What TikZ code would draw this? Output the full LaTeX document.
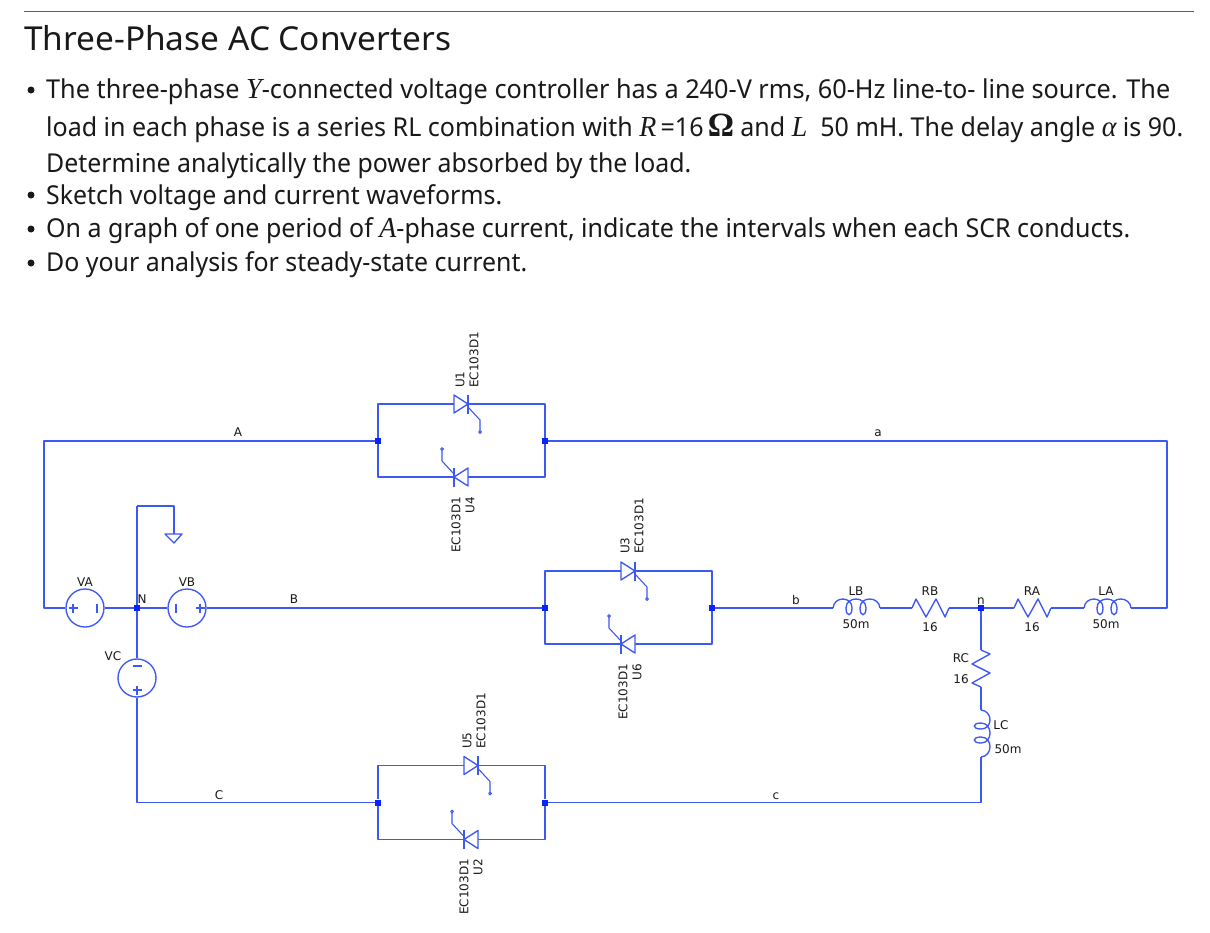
\documentclass[tikz,border=0pt]{standalone}
\usepackage{fontspec}
\usepackage{graphicx}
\setmainfont{Noto Sans}
\newfontfamily\ser{Liberation Serif}
\newfontfamily\lab{DejaVu Sans}
\definecolor{wirec}{RGB}{62,88,242}
\definecolor{dotc}{RGB}{8,36,250}
\definecolor{inkc}{RGB}{25,25,25}
\newcommand{\fitw}[2]{\resizebox{#1pt}{\height}{#2}}
\newcommand{\mi}[1]{{\ser\itshape\fontsize{29}{30}\selectfont #1}}
\tikzset{
  wire/.style={draw=wirec,line width=1.35pt,line join=round},
  junction/.style={rectangle,fill=dotc,inner sep=0pt,minimum size=6pt},
  srcsym/.style={circle,draw=wirec,line width=1.35pt,fill=white,inner sep=0pt,minimum size=38pt},
  txt/.style={anchor=base west,inner sep=0pt,text=inkc,font=\fontsize{26}{30}\selectfont},
  ttl/.style={anchor=base west,inner sep=0pt,text=inkc,font=\fontsize{33}{38}\selectfont},
  bul/.style={circle,fill=inkc,inner sep=0pt,minimum size=7pt},
  lbl/.style={inner sep=0pt,text=inkc,font=\lab\fontsize{12}{14}\selectfont},
  lblup/.style={lbl,rotate=90},
  scr/.pic={
    \draw[wire,fill=white] (-7,-9) -- (-7,9) -- (7,0) -- cycle;
    \draw[wire] (7,-9.5) -- (7,9.5);
    \draw[wire,line width=1.1pt] (7,3) -- (19,16) -- (19,27);
    \draw[wire,line width=1pt,fill=white] (19,28) circle (1.4);
  },
  ind/.pic={
    \draw[wire,fill=none] (0,0) .. controls (1,-12) and (19,-12) .. (19,0)
      .. controls (19,9) and (13,9) .. (13,0)
      .. controls (13,-12) and (33,-12) .. (33,0)
      .. controls (33,9) and (27,9) .. (27,0)
      .. controls (27,-12) and (46,-12) .. (47,0);
  },
  res/.pic={
    \draw[wire] (0,0) -- (4,-9) -- (14,9) -- (24,-9) -- (33,9) -- (37,0);
  }
}
\begin{document}
\begin{tikzpicture}[x=1pt,y=-1pt]
\useasboundingbox[fill=white] (0,0) rectangle (1210,932);
% header
\coordinate (ruleL) at (24,11);
\coordinate (ruleR) at (1194,11);
\draw[draw=black!62,line width=1pt] (ruleL) -- (ruleR);
\node[ttl] (title) at (24,50) {\fitw{427}{Three-Phase AC Converters}};
\node[bul] (b1) at (31,90) {};
\node[bul] (b2) at (31,195) {};
\node[bul] (b3) at (31,229) {};
\node[bul] (b4) at (31,263) {};
\node[txt] (l1) at (46,98) {\fitw{1124}{The three-phase \mi{Y}-connected voltage controller has a 240-V rms, 60-Hz line-to- line source. The}};
\node[txt] (l2) at (46,136) {\fitw{1137}{load in each phase is a series RL combination with \mi{R}\,=16\,{\ser\bfseries\fontsize{34}{34}\selectfont Ω} and \mi{L}\ \ 50 mH. The delay angle \mi{α} is 90.}};
\node[txt] (l3) at (46,172) {\fitw{645}{Determine analytically the power absorbed by the load.}};
\node[txt] (l4) at (46,204) {\fitw{456}{Sketch voltage and current waveforms.}};
\node[txt] (l5) at (46,237) {\fitw{1084}{On a graph of one period of \mi{A}-phase current, indicate the intervals when each SCR conducts.}};
\node[txt] (l6) at (46,271) {\fitw{481}{Do your analysis for steady-state current.}};
% junctions
\node[junction] (jA1) at (378,441) {};
\node[junction] (jA2) at (545,441) {};
\node[junction] (jB1) at (545,608) {};
\node[junction] (jB2) at (712,608) {};
\node[junction] (jC1) at (378,802.5) {};
\node[junction] (jC2) at (545,802.5) {};
\node[junction] (N) at (137,608) {};
\node[junction] (n) at (981,608) {};
% sources
\node[srcsym] (VA) at (85,608) {};
\node[srcsym] (VB) at (187,608) {};
\node[srcsym] (VC) at (137,678) {};
% anchors
\coordinate (U1) at (461,404);
\coordinate (U4) at (461,477);
\coordinate (U3) at (628,571);
\coordinate (U6) at (628,644);
\coordinate (U5) at (471,765.5);
\coordinate (U2) at (471,839.5);
\coordinate (cornerA) at (44,441);
\coordinate (cornerAb) at (44,608);
\coordinate (cornera) at (1167,441);
\coordinate (corneraB) at (1167,608);
\coordinate (cornerC) at (137,802.5);
\coordinate (cornerc) at (981,802.5);
\coordinate (gndtop) at (137,506);
\coordinate (gndc) at (174,534);
\coordinate (LBa) at (833,608); \coordinate (LBb) at (880,608);
\coordinate (RBa) at (912,608); \coordinate (RBb) at (949,608);
\coordinate (RAa) at (1014,608); \coordinate (RAb) at (1051,608);
\coordinate (LAa) at (1084,608); \coordinate (LAb) at (1131,608);
\coordinate (RCa) at (981,650); \coordinate (RCb) at (981,687);
\coordinate (LCa) at (981,710); \coordinate (LCb) at (981,757);
% wires
\draw[wire] (VA.west) -- (cornerAb) -- (cornerA) -- (jA1);
\draw[wire] (jA2) -- (cornera) -- (corneraB) -- (LAb);
\draw[wire] (VA.east) -- (N);
\draw[wire] (N) -- (VB.west);
\draw[wire] (VB.east) -- (jB1);
\draw[wire] (gndtop) -- (N);
\draw[wire] (N) -- (VC.north);
\draw[wire] (gndtop) -| (gndc);
\draw[wire] (VC.south) -- (cornerC) -- (jC1);
\draw[wire] (jC2) -- (cornerc) -- (LCb);
\draw[wire] (jB2) -- (LBa);
\draw[wire] (LBb) -- (RBa);
\draw[wire] (RBb) -- (n);
\draw[wire] (n) -- (RAa);
\draw[wire] (RAb) -- (LAa);
\draw[wire] (n) -- (RCa);
\draw[wire] (RCb) -- (LCa);
\draw[wire] (jA1) |- (U1) -| (jA2);
\draw[wire] (jA1) |- (U4) -| (jA2);
\draw[wire] (jB1) |- (U3) -| (jB2);
\draw[wire] (jB1) |- (U6) -| (jB2);
\draw[wire] (jC1) |- (U5) -| (jC2);
\draw[wire] (jC1) |- (U2) -| (jC2);
% ground symbol
\draw[wire] (165,534) -- (182,534) -- (174,543) -- cycle;
% source marks
\draw[wire] (68.5,608) -- (77.5,608) (73,603.5) -- (73,612.5);
\draw[wire] (97,603.5) -- (97,612.5);
\draw[wire] (176,603.5) -- (176,612.5);
\draw[wire] (195.5,608) -- (204.5,608) (200,603.5) -- (200,612.5);
\draw[wire] (132.5,666) -- (141.5,666);
\draw[wire] (132.5,690) -- (141.5,690) (137,685.5) -- (137,694.5);
% components
\pic at (U1) {scr};
\pic[rotate=180] at (U4) {scr};
\pic at (U3) {scr};
\pic[rotate=180] at (U6) {scr};
\pic at (U5) {scr};
\pic[rotate=180] at (U2) {scr};
\pic at (LBa) {ind};
\pic at (LAa) {ind};
\pic[rotate=-90] at (LCa) {ind};
\pic at (RBa) {res};
\pic at (RAa) {res};
\draw[wire] (RCa) -- (990,654) -- (972,664) -- (990,673) -- (972,683) -- (RCb);
% circuit labels
\node[lbl] (tA) at (238,432) {A};
\node[lbl] (ta) at (878,433) {a};
\node[lbl] (tB) at (294,599) {B};
\node[lbl] (tb) at (796,600) {b};
\node[lbl] (tC) at (219,795) {C};
\node[lbl] (tc) at (776,796) {c};
\node[lbl] (tN) at (142,599) {N};
\node[lbl] (tn) at (981,601) {n};
\node[lbl] (tVA) at (85,582) {VA};
\node[lbl] (tVB) at (187,582) {VB};
\node[lbl] (tVC) at (113,656) {VC};
\node[lbl] (tLB) at (856,591) {LB};
\node[lbl] (vLB) at (856,624) {50m};
\node[lbl] (tRB) at (930,591) {RB};
\node[lbl] (vRB) at (930,627) {16};
\node[lbl] (tRA) at (1032,591) {RA};
\node[lbl] (vRA) at (1032,627) {16};
\node[lbl] (tLA) at (1106,591) {LA};
\node[lbl] (vLA) at (1106,624) {50m};
\node[lbl] (tRC) at (961,658) {RC};
\node[lbl] (vRC) at (961,679) {16};
\node[lbl] (tLC) at (1001,725) {LC};
\node[lbl] (vLC) at (1008,749) {50m};
\node[lblup,anchor=west] (nU1) at (460,388) {U1};
\node[lblup,anchor=west] (mU1) at (474,388) {EC103D1};
\node[lblup,anchor=west] (mU4) at (456,553) {EC103D1};
\node[lblup,anchor=east] (nU4) at (470,497) {U4};
\node[lblup,anchor=west] (nU3) at (625,554) {U3};
\node[lblup,anchor=west] (mU3) at (639,554) {EC103D1};
\node[lblup,anchor=west] (mU6) at (623,720) {EC103D1};
\node[lblup,anchor=east] (nU6) at (637,664) {U6};
\node[lblup,anchor=west] (nU5) at (467,749) {U5};
\node[lblup,anchor=west] (mU5) at (481,749) {EC103D1};
\node[lblup,anchor=west] (mU2) at (464,915) {EC103D1};
\node[lblup,anchor=east] (nU2) at (478,859) {U2};
\end{tikzpicture}
\end{document}
